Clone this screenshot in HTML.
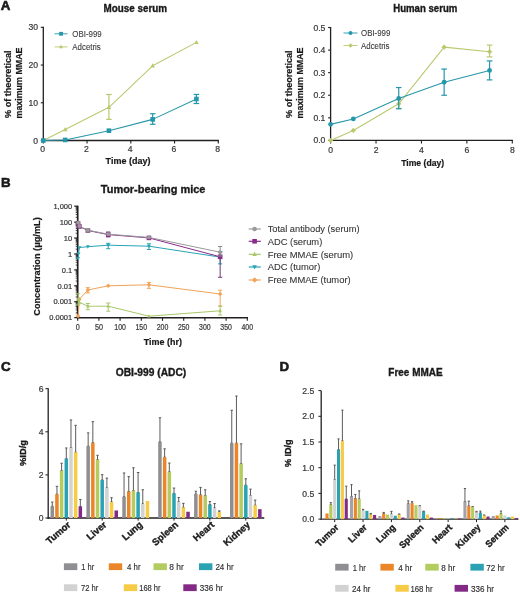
<!DOCTYPE html>
<html><head><meta charset="utf-8"><style>
html,body{margin:0;padding:0;background:#fff;}
svg{display:block;font-family:"Liberation Sans", sans-serif;will-change:transform;}
</style></head><body>
<svg width="520" height="594" viewBox="0 0 520 594">
<rect width="520" height="594" fill="#ffffff"/>
<text x="0.70" y="9.60" font-size="13.3" font-weight="bold" text-anchor="start" fill="#1a1a1a" stroke="#1a1a1a" stroke-width="0.6">A</text>
<text x="0.90" y="187.00" font-size="13.3" font-weight="bold" text-anchor="start" fill="#1a1a1a" stroke="#1a1a1a" stroke-width="0.6">B</text>
<text x="0.90" y="371.00" font-size="13.3" font-weight="bold" text-anchor="start" fill="#1a1a1a" stroke="#1a1a1a" stroke-width="0.6">C</text>
<text x="279.50" y="370.80" font-size="13.3" font-weight="bold" text-anchor="start" fill="#1a1a1a" stroke="#1a1a1a" stroke-width="0.6">D</text>
<text x="103.60" y="12.30" font-size="10" font-weight="bold" text-anchor="start" fill="#1a1a1a" stroke="#1a1a1a" stroke-width="0.35" textLength="63.5" lengthAdjust="spacingAndGlyphs">Mouse serum</text>
<line x1="43.30" y1="26.81" x2="43.30" y2="141.10" stroke="#231f20" stroke-width="1.3"/>
<line x1="42.70" y1="140.50" x2="218.90" y2="140.50" stroke="#231f20" stroke-width="1.3"/>
<line x1="40.80" y1="140.50" x2="43.30" y2="140.50" stroke="#231f20" stroke-width="1.1"/>
<text x="38.10" y="143.50" font-size="8.6" font-weight="normal" text-anchor="end" fill="#3a3a3a" stroke="#3a3a3a" stroke-width="0.22">0</text>
<line x1="40.80" y1="102.77" x2="43.30" y2="102.77" stroke="#231f20" stroke-width="1.1"/>
<text x="38.10" y="105.77" font-size="8.6" font-weight="normal" text-anchor="end" fill="#3a3a3a" stroke="#3a3a3a" stroke-width="0.22">10</text>
<line x1="40.80" y1="65.04" x2="43.30" y2="65.04" stroke="#231f20" stroke-width="1.1"/>
<text x="38.10" y="68.04" font-size="8.6" font-weight="normal" text-anchor="end" fill="#3a3a3a" stroke="#3a3a3a" stroke-width="0.22">20</text>
<line x1="40.80" y1="27.31" x2="43.30" y2="27.31" stroke="#231f20" stroke-width="1.1"/>
<text x="38.10" y="30.31" font-size="8.6" font-weight="normal" text-anchor="end" fill="#3a3a3a" stroke="#3a3a3a" stroke-width="0.22">30</text>
<line x1="43.30" y1="140.50" x2="43.30" y2="143.50" stroke="#231f20" stroke-width="1.1"/>
<text x="42.70" y="152.30" font-size="8.6" font-weight="normal" text-anchor="middle" fill="#3a3a3a" stroke="#3a3a3a" stroke-width="0.22">0</text>
<line x1="87.05" y1="140.50" x2="87.05" y2="143.50" stroke="#231f20" stroke-width="1.1"/>
<text x="86.45" y="152.30" font-size="8.6" font-weight="normal" text-anchor="middle" fill="#3a3a3a" stroke="#3a3a3a" stroke-width="0.22">2</text>
<line x1="130.80" y1="140.50" x2="130.80" y2="143.50" stroke="#231f20" stroke-width="1.1"/>
<text x="130.20" y="152.30" font-size="8.6" font-weight="normal" text-anchor="middle" fill="#3a3a3a" stroke="#3a3a3a" stroke-width="0.22">4</text>
<line x1="174.55" y1="140.50" x2="174.55" y2="143.50" stroke="#231f20" stroke-width="1.1"/>
<text x="173.95" y="152.30" font-size="8.6" font-weight="normal" text-anchor="middle" fill="#3a3a3a" stroke="#3a3a3a" stroke-width="0.22">6</text>
<line x1="218.30" y1="140.50" x2="218.30" y2="143.50" stroke="#231f20" stroke-width="1.1"/>
<text x="217.70" y="152.30" font-size="8.6" font-weight="normal" text-anchor="middle" fill="#3a3a3a" stroke="#3a3a3a" stroke-width="0.22">8</text>
<text x="105.60" y="164.30" font-size="9.5" font-weight="bold" text-anchor="start" fill="#1a1a1a" stroke="#1a1a1a" stroke-width="0.22" textLength="44.8" lengthAdjust="spacingAndGlyphs">Time (day)</text>
<text x="10.90" y="84.20" font-size="9.4" font-weight="bold" text-anchor="middle" fill="#1a1a1a" stroke="#1a1a1a" stroke-width="0.22" textLength="67.5" lengthAdjust="spacingAndGlyphs" transform="rotate(-90 10.90 84.20)">% of theoretical</text>
<text x="22.10" y="83.00" font-size="9.4" font-weight="bold" text-anchor="middle" fill="#1a1a1a" stroke="#1a1a1a" stroke-width="0.22" textLength="71" lengthAdjust="spacingAndGlyphs" transform="rotate(-90 22.10 83.00)">maximum MMAE</text>
<polyline points="43.30,140.50 65.17,129.56 108.92,107.30 152.68,65.79 196.43,42.40" fill="none" stroke="#bac86e" stroke-width="1.05" stroke-linejoin="round"/>
<line x1="108.92" y1="94.47" x2="108.92" y2="119.37" stroke="#bac86e" stroke-width="1.2"/>
<line x1="106.12" y1="94.47" x2="111.72" y2="94.47" stroke="#bac86e" stroke-width="1.2"/>
<line x1="106.12" y1="119.37" x2="111.72" y2="119.37" stroke="#bac86e" stroke-width="1.2"/>
<polygon points="43.30,138.02 45.60,142.16 41.00,142.16" fill="#bac86e"/>
<polygon points="65.17,127.07 67.47,131.21 62.88,131.21" fill="#bac86e"/>
<polygon points="108.92,104.81 111.22,108.95 106.62,108.95" fill="#bac86e"/>
<polygon points="152.68,63.31 154.98,67.45 150.38,67.45" fill="#bac86e"/>
<polygon points="196.43,39.92 198.73,44.06 194.12,44.06" fill="#bac86e"/>
<polyline points="43.30,140.50 65.17,139.93 108.92,130.69 152.68,119.37 196.43,99.00" fill="none" stroke="#2597aa" stroke-width="1.05" stroke-linejoin="round"/>
<line x1="152.68" y1="113.71" x2="152.68" y2="124.28" stroke="#2597aa" stroke-width="1.2"/>
<line x1="149.88" y1="113.71" x2="155.48" y2="113.71" stroke="#2597aa" stroke-width="1.2"/>
<line x1="149.88" y1="124.28" x2="155.48" y2="124.28" stroke="#2597aa" stroke-width="1.2"/>
<line x1="196.43" y1="94.47" x2="196.43" y2="103.52" stroke="#2597aa" stroke-width="1.2"/>
<line x1="193.62" y1="94.47" x2="199.23" y2="94.47" stroke="#2597aa" stroke-width="1.2"/>
<line x1="193.62" y1="103.52" x2="199.23" y2="103.52" stroke="#2597aa" stroke-width="1.2"/>
<rect x="41.00" y="138.20" width="4.60" height="4.60" fill="#2597aa"/>
<rect x="62.88" y="137.63" width="4.60" height="4.60" fill="#2597aa"/>
<rect x="106.62" y="128.39" width="4.60" height="4.60" fill="#2597aa"/>
<rect x="150.38" y="117.07" width="4.60" height="4.60" fill="#2597aa"/>
<rect x="194.12" y="96.70" width="4.60" height="4.60" fill="#2597aa"/>
<line x1="54.60" y1="33.80" x2="67.50" y2="33.80" stroke="#2597aa" stroke-width="0.9"/>
<rect x="59.15" y="31.90" width="3.80" height="3.80" fill="#2597aa"/>
<text x="72.30" y="36.80" font-size="8.5" font-weight="normal" text-anchor="start" fill="#3a3a3a" stroke="#3a3a3a" stroke-width="0.1" textLength="29.4" lengthAdjust="spacingAndGlyphs">OBI-999</text>
<line x1="54.60" y1="46.90" x2="67.50" y2="46.90" stroke="#bac86e" stroke-width="0.9"/>
<polygon points="61.05,44.74 63.05,48.34 59.05,48.34" fill="#bac86e"/>
<text x="72.30" y="49.90" font-size="8.5" font-weight="normal" text-anchor="start" fill="#3a3a3a" stroke="#3a3a3a" stroke-width="0.1" textLength="28.5" lengthAdjust="spacingAndGlyphs">Adcetris</text>
<text x="393.30" y="12.30" font-size="10" font-weight="bold" text-anchor="start" fill="#1a1a1a" stroke="#1a1a1a" stroke-width="0.35" textLength="64.0" lengthAdjust="spacingAndGlyphs">Human serum</text>
<line x1="330.60" y1="27.00" x2="330.60" y2="141.00" stroke="#231f20" stroke-width="1.3"/>
<line x1="330.00" y1="140.40" x2="512.88" y2="140.40" stroke="#231f20" stroke-width="1.3"/>
<line x1="328.10" y1="140.40" x2="330.60" y2="140.40" stroke="#231f20" stroke-width="1.1"/>
<text x="325.40" y="143.40" font-size="8.6" font-weight="normal" text-anchor="end" fill="#3a3a3a" stroke="#3a3a3a" stroke-width="0.22">0.0</text>
<line x1="328.10" y1="117.82" x2="330.60" y2="117.82" stroke="#231f20" stroke-width="1.1"/>
<text x="325.40" y="120.82" font-size="8.6" font-weight="normal" text-anchor="end" fill="#3a3a3a" stroke="#3a3a3a" stroke-width="0.22">0.1</text>
<line x1="328.10" y1="95.24" x2="330.60" y2="95.24" stroke="#231f20" stroke-width="1.1"/>
<text x="325.40" y="98.24" font-size="8.6" font-weight="normal" text-anchor="end" fill="#3a3a3a" stroke="#3a3a3a" stroke-width="0.22">0.2</text>
<line x1="328.10" y1="72.66" x2="330.60" y2="72.66" stroke="#231f20" stroke-width="1.1"/>
<text x="325.40" y="75.66" font-size="8.6" font-weight="normal" text-anchor="end" fill="#3a3a3a" stroke="#3a3a3a" stroke-width="0.22">0.3</text>
<line x1="328.10" y1="50.08" x2="330.60" y2="50.08" stroke="#231f20" stroke-width="1.1"/>
<text x="325.40" y="53.08" font-size="8.6" font-weight="normal" text-anchor="end" fill="#3a3a3a" stroke="#3a3a3a" stroke-width="0.22">0.4</text>
<line x1="328.10" y1="27.50" x2="330.60" y2="27.50" stroke="#231f20" stroke-width="1.1"/>
<text x="325.40" y="30.50" font-size="8.6" font-weight="normal" text-anchor="end" fill="#3a3a3a" stroke="#3a3a3a" stroke-width="0.22">0.5</text>
<line x1="330.60" y1="140.40" x2="330.60" y2="143.40" stroke="#231f20" stroke-width="1.1"/>
<text x="330.60" y="152.50" font-size="8.6" font-weight="normal" text-anchor="middle" fill="#3a3a3a" stroke="#3a3a3a" stroke-width="0.22">0</text>
<line x1="376.02" y1="140.40" x2="376.02" y2="143.40" stroke="#231f20" stroke-width="1.1"/>
<text x="376.02" y="152.50" font-size="8.6" font-weight="normal" text-anchor="middle" fill="#3a3a3a" stroke="#3a3a3a" stroke-width="0.22">2</text>
<line x1="421.44" y1="140.40" x2="421.44" y2="143.40" stroke="#231f20" stroke-width="1.1"/>
<text x="421.44" y="152.50" font-size="8.6" font-weight="normal" text-anchor="middle" fill="#3a3a3a" stroke="#3a3a3a" stroke-width="0.22">4</text>
<line x1="466.86" y1="140.40" x2="466.86" y2="143.40" stroke="#231f20" stroke-width="1.1"/>
<text x="466.86" y="152.50" font-size="8.6" font-weight="normal" text-anchor="middle" fill="#3a3a3a" stroke="#3a3a3a" stroke-width="0.22">6</text>
<line x1="512.28" y1="140.40" x2="512.28" y2="143.40" stroke="#231f20" stroke-width="1.1"/>
<text x="512.28" y="152.50" font-size="8.6" font-weight="normal" text-anchor="middle" fill="#3a3a3a" stroke="#3a3a3a" stroke-width="0.22">8</text>
<text x="401.20" y="166.30" font-size="9.5" font-weight="bold" text-anchor="start" fill="#1a1a1a" stroke="#1a1a1a" stroke-width="0.22" textLength="43.0" lengthAdjust="spacingAndGlyphs">Time (day)</text>
<text x="291.80" y="84.20" font-size="9.4" font-weight="bold" text-anchor="middle" fill="#1a1a1a" stroke="#1a1a1a" stroke-width="0.22" textLength="67.5" lengthAdjust="spacingAndGlyphs" transform="rotate(-90 291.80 84.20)">% of theoretical</text>
<text x="302.60" y="83.00" font-size="9.4" font-weight="bold" text-anchor="middle" fill="#1a1a1a" stroke="#1a1a1a" stroke-width="0.22" textLength="71" lengthAdjust="spacingAndGlyphs" transform="rotate(-90 302.60 83.00)">maximum MMAE</text>
<polyline points="330.60,140.40 353.31,130.46 398.73,103.82 444.15,47.14 489.57,51.66" fill="none" stroke="#bac86e" stroke-width="1.05" stroke-linejoin="round"/>
<line x1="398.73" y1="99.76" x2="398.73" y2="108.34" stroke="#bac86e" stroke-width="1.2"/>
<line x1="395.93" y1="99.76" x2="401.53" y2="99.76" stroke="#bac86e" stroke-width="1.2"/>
<line x1="395.93" y1="108.34" x2="401.53" y2="108.34" stroke="#bac86e" stroke-width="1.2"/>
<line x1="489.57" y1="45.11" x2="489.57" y2="56.85" stroke="#bac86e" stroke-width="1.2"/>
<line x1="486.77" y1="45.11" x2="492.37" y2="45.11" stroke="#bac86e" stroke-width="1.2"/>
<line x1="486.77" y1="56.85" x2="492.37" y2="56.85" stroke="#bac86e" stroke-width="1.2"/>
<polygon points="330.60,137.75 333.25,140.40 330.60,143.05 327.96,140.40" fill="#bac86e"/>
<polygon points="353.31,127.82 355.95,130.46 353.31,133.11 350.67,130.46" fill="#bac86e"/>
<polygon points="398.73,101.18 401.38,103.82 398.73,106.47 396.09,103.82" fill="#bac86e"/>
<polygon points="444.15,44.50 446.80,47.14 444.15,49.79 441.51,47.14" fill="#bac86e"/>
<polygon points="489.57,49.02 492.22,51.66 489.57,54.31 486.93,51.66" fill="#bac86e"/>
<polyline points="330.60,124.37 353.31,118.95 398.73,98.40 444.15,82.14 489.57,70.40" fill="none" stroke="#2597aa" stroke-width="1.05" stroke-linejoin="round"/>
<line x1="398.73" y1="87.56" x2="398.73" y2="108.79" stroke="#2597aa" stroke-width="1.2"/>
<line x1="395.93" y1="87.56" x2="401.53" y2="87.56" stroke="#2597aa" stroke-width="1.2"/>
<line x1="395.93" y1="108.79" x2="401.53" y2="108.79" stroke="#2597aa" stroke-width="1.2"/>
<line x1="444.15" y1="69.05" x2="444.15" y2="95.24" stroke="#2597aa" stroke-width="1.2"/>
<line x1="441.35" y1="69.05" x2="446.95" y2="69.05" stroke="#2597aa" stroke-width="1.2"/>
<line x1="441.35" y1="95.24" x2="446.95" y2="95.24" stroke="#2597aa" stroke-width="1.2"/>
<line x1="489.57" y1="60.92" x2="489.57" y2="79.89" stroke="#2597aa" stroke-width="1.2"/>
<line x1="486.77" y1="60.92" x2="492.37" y2="60.92" stroke="#2597aa" stroke-width="1.2"/>
<line x1="486.77" y1="79.89" x2="492.37" y2="79.89" stroke="#2597aa" stroke-width="1.2"/>
<circle cx="330.60" cy="124.37" r="2.40" fill="#2597aa"/>
<circle cx="353.31" cy="118.95" r="2.40" fill="#2597aa"/>
<circle cx="398.73" cy="98.40" r="2.40" fill="#2597aa"/>
<circle cx="444.15" cy="82.14" r="2.40" fill="#2597aa"/>
<circle cx="489.57" cy="70.40" r="2.40" fill="#2597aa"/>
<line x1="343.50" y1="33.00" x2="357.50" y2="33.00" stroke="#2597aa" stroke-width="0.9"/>
<circle cx="350.50" cy="33.00" r="2.00" fill="#2597aa"/>
<text x="361.00" y="36.00" font-size="8.5" font-weight="normal" text-anchor="start" fill="#3a3a3a" stroke="#3a3a3a" stroke-width="0.1" textLength="29.4" lengthAdjust="spacingAndGlyphs">OBI-999</text>
<line x1="343.50" y1="45.50" x2="357.50" y2="45.50" stroke="#bac86e" stroke-width="0.9"/>
<polygon points="350.50,43.20 352.80,45.50 350.50,47.80 348.20,45.50" fill="#bac86e"/>
<text x="361.00" y="48.50" font-size="8.5" font-weight="normal" text-anchor="start" fill="#3a3a3a" stroke="#3a3a3a" stroke-width="0.1" textLength="28.5" lengthAdjust="spacingAndGlyphs">Adcetris</text>
<text x="100.80" y="192.60" font-size="11" font-weight="bold" text-anchor="start" fill="#1a1a1a" stroke="#1a1a1a" stroke-width="0.35" textLength="104.6" lengthAdjust="spacingAndGlyphs">Tumor-bearing mice</text>
<line x1="77.70" y1="205.70" x2="77.70" y2="318.44" stroke="#231f20" stroke-width="1.7"/>
<line x1="76.90" y1="317.64" x2="248.00" y2="317.64" stroke="#231f20" stroke-width="1.5"/>
<line x1="74.20" y1="206.20" x2="77.70" y2="206.20" stroke="#231f20" stroke-width="1.2"/>
<text x="72.20" y="208.90" font-size="7.5" font-weight="normal" text-anchor="end" fill="#3a3a3a" stroke="#3a3a3a" stroke-width="0.22">1,000</text>
<line x1="75.70" y1="217.33" x2="77.70" y2="217.33" stroke="#231f20" stroke-width="0.8"/>
<line x1="75.70" y1="214.52" x2="77.70" y2="214.52" stroke="#231f20" stroke-width="0.8"/>
<line x1="75.70" y1="212.54" x2="77.70" y2="212.54" stroke="#231f20" stroke-width="0.8"/>
<line x1="75.70" y1="210.99" x2="77.70" y2="210.99" stroke="#231f20" stroke-width="0.8"/>
<line x1="75.70" y1="209.73" x2="77.70" y2="209.73" stroke="#231f20" stroke-width="0.8"/>
<line x1="75.70" y1="208.67" x2="77.70" y2="208.67" stroke="#231f20" stroke-width="0.8"/>
<line x1="75.70" y1="207.74" x2="77.70" y2="207.74" stroke="#231f20" stroke-width="0.8"/>
<line x1="75.70" y1="206.93" x2="77.70" y2="206.93" stroke="#231f20" stroke-width="0.8"/>
<line x1="74.20" y1="222.12" x2="77.70" y2="222.12" stroke="#231f20" stroke-width="1.2"/>
<text x="72.20" y="224.82" font-size="7.5" font-weight="normal" text-anchor="end" fill="#3a3a3a" stroke="#3a3a3a" stroke-width="0.22">100</text>
<line x1="75.70" y1="233.25" x2="77.70" y2="233.25" stroke="#231f20" stroke-width="0.8"/>
<line x1="75.70" y1="230.44" x2="77.70" y2="230.44" stroke="#231f20" stroke-width="0.8"/>
<line x1="75.70" y1="228.46" x2="77.70" y2="228.46" stroke="#231f20" stroke-width="0.8"/>
<line x1="75.70" y1="226.91" x2="77.70" y2="226.91" stroke="#231f20" stroke-width="0.8"/>
<line x1="75.70" y1="225.65" x2="77.70" y2="225.65" stroke="#231f20" stroke-width="0.8"/>
<line x1="75.70" y1="224.59" x2="77.70" y2="224.59" stroke="#231f20" stroke-width="0.8"/>
<line x1="75.70" y1="223.66" x2="77.70" y2="223.66" stroke="#231f20" stroke-width="0.8"/>
<line x1="75.70" y1="222.85" x2="77.70" y2="222.85" stroke="#231f20" stroke-width="0.8"/>
<line x1="74.20" y1="238.04" x2="77.70" y2="238.04" stroke="#231f20" stroke-width="1.2"/>
<text x="72.20" y="240.74" font-size="7.5" font-weight="normal" text-anchor="end" fill="#3a3a3a" stroke="#3a3a3a" stroke-width="0.22">10</text>
<line x1="75.70" y1="249.17" x2="77.70" y2="249.17" stroke="#231f20" stroke-width="0.8"/>
<line x1="75.70" y1="246.36" x2="77.70" y2="246.36" stroke="#231f20" stroke-width="0.8"/>
<line x1="75.70" y1="244.38" x2="77.70" y2="244.38" stroke="#231f20" stroke-width="0.8"/>
<line x1="75.70" y1="242.83" x2="77.70" y2="242.83" stroke="#231f20" stroke-width="0.8"/>
<line x1="75.70" y1="241.57" x2="77.70" y2="241.57" stroke="#231f20" stroke-width="0.8"/>
<line x1="75.70" y1="240.51" x2="77.70" y2="240.51" stroke="#231f20" stroke-width="0.8"/>
<line x1="75.70" y1="239.58" x2="77.70" y2="239.58" stroke="#231f20" stroke-width="0.8"/>
<line x1="75.70" y1="238.77" x2="77.70" y2="238.77" stroke="#231f20" stroke-width="0.8"/>
<line x1="74.20" y1="253.96" x2="77.70" y2="253.96" stroke="#231f20" stroke-width="1.2"/>
<text x="72.20" y="256.66" font-size="7.5" font-weight="normal" text-anchor="end" fill="#3a3a3a" stroke="#3a3a3a" stroke-width="0.22">1</text>
<line x1="75.70" y1="265.09" x2="77.70" y2="265.09" stroke="#231f20" stroke-width="0.8"/>
<line x1="75.70" y1="262.28" x2="77.70" y2="262.28" stroke="#231f20" stroke-width="0.8"/>
<line x1="75.70" y1="260.30" x2="77.70" y2="260.30" stroke="#231f20" stroke-width="0.8"/>
<line x1="75.70" y1="258.75" x2="77.70" y2="258.75" stroke="#231f20" stroke-width="0.8"/>
<line x1="75.70" y1="257.49" x2="77.70" y2="257.49" stroke="#231f20" stroke-width="0.8"/>
<line x1="75.70" y1="256.43" x2="77.70" y2="256.43" stroke="#231f20" stroke-width="0.8"/>
<line x1="75.70" y1="255.50" x2="77.70" y2="255.50" stroke="#231f20" stroke-width="0.8"/>
<line x1="75.70" y1="254.69" x2="77.70" y2="254.69" stroke="#231f20" stroke-width="0.8"/>
<line x1="74.20" y1="269.88" x2="77.70" y2="269.88" stroke="#231f20" stroke-width="1.2"/>
<text x="72.20" y="272.58" font-size="7.5" font-weight="normal" text-anchor="end" fill="#3a3a3a" stroke="#3a3a3a" stroke-width="0.22">0.1</text>
<line x1="75.70" y1="281.01" x2="77.70" y2="281.01" stroke="#231f20" stroke-width="0.8"/>
<line x1="75.70" y1="278.20" x2="77.70" y2="278.20" stroke="#231f20" stroke-width="0.8"/>
<line x1="75.70" y1="276.22" x2="77.70" y2="276.22" stroke="#231f20" stroke-width="0.8"/>
<line x1="75.70" y1="274.67" x2="77.70" y2="274.67" stroke="#231f20" stroke-width="0.8"/>
<line x1="75.70" y1="273.41" x2="77.70" y2="273.41" stroke="#231f20" stroke-width="0.8"/>
<line x1="75.70" y1="272.35" x2="77.70" y2="272.35" stroke="#231f20" stroke-width="0.8"/>
<line x1="75.70" y1="271.42" x2="77.70" y2="271.42" stroke="#231f20" stroke-width="0.8"/>
<line x1="75.70" y1="270.61" x2="77.70" y2="270.61" stroke="#231f20" stroke-width="0.8"/>
<line x1="74.20" y1="285.80" x2="77.70" y2="285.80" stroke="#231f20" stroke-width="1.2"/>
<text x="72.20" y="288.50" font-size="7.5" font-weight="normal" text-anchor="end" fill="#3a3a3a" stroke="#3a3a3a" stroke-width="0.22">0.01</text>
<line x1="75.70" y1="296.93" x2="77.70" y2="296.93" stroke="#231f20" stroke-width="0.8"/>
<line x1="75.70" y1="294.12" x2="77.70" y2="294.12" stroke="#231f20" stroke-width="0.8"/>
<line x1="75.70" y1="292.14" x2="77.70" y2="292.14" stroke="#231f20" stroke-width="0.8"/>
<line x1="75.70" y1="290.59" x2="77.70" y2="290.59" stroke="#231f20" stroke-width="0.8"/>
<line x1="75.70" y1="289.33" x2="77.70" y2="289.33" stroke="#231f20" stroke-width="0.8"/>
<line x1="75.70" y1="288.27" x2="77.70" y2="288.27" stroke="#231f20" stroke-width="0.8"/>
<line x1="75.70" y1="287.34" x2="77.70" y2="287.34" stroke="#231f20" stroke-width="0.8"/>
<line x1="75.70" y1="286.53" x2="77.70" y2="286.53" stroke="#231f20" stroke-width="0.8"/>
<line x1="74.20" y1="301.72" x2="77.70" y2="301.72" stroke="#231f20" stroke-width="1.2"/>
<text x="72.20" y="304.42" font-size="7.5" font-weight="normal" text-anchor="end" fill="#3a3a3a" stroke="#3a3a3a" stroke-width="0.22">0.001</text>
<line x1="75.70" y1="312.85" x2="77.70" y2="312.85" stroke="#231f20" stroke-width="0.8"/>
<line x1="75.70" y1="310.04" x2="77.70" y2="310.04" stroke="#231f20" stroke-width="0.8"/>
<line x1="75.70" y1="308.06" x2="77.70" y2="308.06" stroke="#231f20" stroke-width="0.8"/>
<line x1="75.70" y1="306.51" x2="77.70" y2="306.51" stroke="#231f20" stroke-width="0.8"/>
<line x1="75.70" y1="305.25" x2="77.70" y2="305.25" stroke="#231f20" stroke-width="0.8"/>
<line x1="75.70" y1="304.19" x2="77.70" y2="304.19" stroke="#231f20" stroke-width="0.8"/>
<line x1="75.70" y1="303.26" x2="77.70" y2="303.26" stroke="#231f20" stroke-width="0.8"/>
<line x1="75.70" y1="302.45" x2="77.70" y2="302.45" stroke="#231f20" stroke-width="0.8"/>
<line x1="74.20" y1="317.64" x2="77.70" y2="317.64" stroke="#231f20" stroke-width="1.2"/>
<text x="72.20" y="320.34" font-size="7.5" font-weight="normal" text-anchor="end" fill="#3a3a3a" stroke="#3a3a3a" stroke-width="0.22">0.0001</text>
<line x1="77.70" y1="317.64" x2="77.70" y2="320.84" stroke="#231f20" stroke-width="1.1"/>
<text x="77.70" y="330.30" font-size="8.2" font-weight="normal" text-anchor="middle" fill="#3a3a3a" stroke="#3a3a3a" stroke-width="0.22" textLength="4.0" lengthAdjust="spacingAndGlyphs">0</text>
<line x1="98.90" y1="317.64" x2="98.90" y2="320.84" stroke="#231f20" stroke-width="1.1"/>
<text x="98.90" y="330.30" font-size="8.2" font-weight="normal" text-anchor="middle" fill="#3a3a3a" stroke="#3a3a3a" stroke-width="0.22" textLength="8.0" lengthAdjust="spacingAndGlyphs">50</text>
<line x1="120.10" y1="317.64" x2="120.10" y2="320.84" stroke="#231f20" stroke-width="1.1"/>
<text x="120.10" y="330.30" font-size="8.2" font-weight="normal" text-anchor="middle" fill="#3a3a3a" stroke="#3a3a3a" stroke-width="0.22" textLength="11.6" lengthAdjust="spacingAndGlyphs">100</text>
<line x1="141.30" y1="317.64" x2="141.30" y2="320.84" stroke="#231f20" stroke-width="1.1"/>
<text x="141.30" y="330.30" font-size="8.2" font-weight="normal" text-anchor="middle" fill="#3a3a3a" stroke="#3a3a3a" stroke-width="0.22" textLength="11.6" lengthAdjust="spacingAndGlyphs">150</text>
<line x1="162.50" y1="317.64" x2="162.50" y2="320.84" stroke="#231f20" stroke-width="1.1"/>
<text x="162.50" y="330.30" font-size="8.2" font-weight="normal" text-anchor="middle" fill="#3a3a3a" stroke="#3a3a3a" stroke-width="0.22" textLength="11.6" lengthAdjust="spacingAndGlyphs">200</text>
<line x1="183.70" y1="317.64" x2="183.70" y2="320.84" stroke="#231f20" stroke-width="1.1"/>
<text x="183.70" y="330.30" font-size="8.2" font-weight="normal" text-anchor="middle" fill="#3a3a3a" stroke="#3a3a3a" stroke-width="0.22" textLength="11.6" lengthAdjust="spacingAndGlyphs">250</text>
<line x1="204.90" y1="317.64" x2="204.90" y2="320.84" stroke="#231f20" stroke-width="1.1"/>
<text x="204.90" y="330.30" font-size="8.2" font-weight="normal" text-anchor="middle" fill="#3a3a3a" stroke="#3a3a3a" stroke-width="0.22" textLength="11.6" lengthAdjust="spacingAndGlyphs">300</text>
<line x1="226.10" y1="317.64" x2="226.10" y2="320.84" stroke="#231f20" stroke-width="1.1"/>
<text x="226.10" y="330.30" font-size="8.2" font-weight="normal" text-anchor="middle" fill="#3a3a3a" stroke="#3a3a3a" stroke-width="0.22" textLength="11.6" lengthAdjust="spacingAndGlyphs">350</text>
<line x1="247.30" y1="317.64" x2="247.30" y2="320.84" stroke="#231f20" stroke-width="1.1"/>
<text x="247.30" y="330.30" font-size="8.2" font-weight="normal" text-anchor="middle" fill="#3a3a3a" stroke="#3a3a3a" stroke-width="0.22" textLength="11.6" lengthAdjust="spacingAndGlyphs">400</text>
<text x="143.80" y="345.40" font-size="9.5" font-weight="bold" text-anchor="start" fill="#1a1a1a" stroke="#1a1a1a" stroke-width="0.22" textLength="38.1" lengthAdjust="spacingAndGlyphs">Time (hr)</text>
<text x="40.30" y="266.50" font-size="9.5" font-weight="bold" text-anchor="middle" fill="#1a1a1a" stroke="#1a1a1a" stroke-width="0.22" textLength="98.5" lengthAdjust="spacingAndGlyphs" transform="rotate(-90 40.30 266.50)">Concentration (μg/mL)</text>
<polyline points="78.12,316.00 79.40,299.20 87.88,290.00 108.23,285.80 148.93,284.80 220.16,294.00" fill="none" stroke="#f0a35a" stroke-width="1.0" stroke-linejoin="round"/>
<line x1="87.88" y1="287.70" x2="87.88" y2="293.00" stroke="#f0a35a" stroke-width="1.0"/>
<line x1="85.78" y1="287.70" x2="89.98" y2="287.70" stroke="#f0a35a" stroke-width="1.0"/>
<line x1="85.78" y1="293.00" x2="89.98" y2="293.00" stroke="#f0a35a" stroke-width="1.0"/>
<line x1="148.93" y1="282.40" x2="148.93" y2="288.30" stroke="#f0a35a" stroke-width="1.0"/>
<line x1="146.83" y1="282.40" x2="151.03" y2="282.40" stroke="#f0a35a" stroke-width="1.0"/>
<line x1="146.83" y1="288.30" x2="151.03" y2="288.30" stroke="#f0a35a" stroke-width="1.0"/>
<line x1="220.16" y1="290.20" x2="220.16" y2="306.00" stroke="#f0a35a" stroke-width="1.0"/>
<line x1="218.06" y1="290.20" x2="222.26" y2="290.20" stroke="#f0a35a" stroke-width="1.0"/>
<line x1="218.06" y1="306.00" x2="222.26" y2="306.00" stroke="#f0a35a" stroke-width="1.0"/>
<polygon points="78.12,313.81 80.31,316.00 78.12,318.19 75.94,316.00" fill="#f0a35a"/>
<polygon points="79.40,297.01 81.58,299.20 79.40,301.38 77.21,299.20" fill="#f0a35a"/>
<polygon points="87.88,287.81 90.06,290.00 87.88,292.19 85.69,290.00" fill="#f0a35a"/>
<polygon points="108.23,283.62 110.41,285.80 108.23,287.99 106.04,285.80" fill="#f0a35a"/>
<polygon points="148.93,282.62 151.12,284.80 148.93,286.99 146.75,284.80" fill="#f0a35a"/>
<polygon points="220.16,291.81 222.35,294.00 220.16,296.19 217.98,294.00" fill="#f0a35a"/>
<polyline points="78.12,299.20 79.40,302.30 87.88,306.20 108.23,306.20 148.93,316.20 220.16,310.80" fill="none" stroke="#a9c86b" stroke-width="1.0" stroke-linejoin="round"/>
<line x1="78.12" y1="293.80" x2="78.12" y2="305.00" stroke="#a9c86b" stroke-width="1.0"/>
<line x1="76.02" y1="293.80" x2="80.22" y2="293.80" stroke="#a9c86b" stroke-width="1.0"/>
<line x1="76.02" y1="305.00" x2="80.22" y2="305.00" stroke="#a9c86b" stroke-width="1.0"/>
<line x1="87.88" y1="303.50" x2="87.88" y2="309.70" stroke="#a9c86b" stroke-width="1.0"/>
<line x1="85.78" y1="303.50" x2="89.98" y2="303.50" stroke="#a9c86b" stroke-width="1.0"/>
<line x1="85.78" y1="309.70" x2="89.98" y2="309.70" stroke="#a9c86b" stroke-width="1.0"/>
<line x1="108.23" y1="303.00" x2="108.23" y2="311.20" stroke="#a9c86b" stroke-width="1.0"/>
<line x1="106.13" y1="303.00" x2="110.33" y2="303.00" stroke="#a9c86b" stroke-width="1.0"/>
<line x1="106.13" y1="311.20" x2="110.33" y2="311.20" stroke="#a9c86b" stroke-width="1.0"/>
<line x1="220.16" y1="306.20" x2="220.16" y2="315.00" stroke="#a9c86b" stroke-width="1.0"/>
<line x1="218.06" y1="306.20" x2="222.26" y2="306.20" stroke="#a9c86b" stroke-width="1.0"/>
<line x1="218.06" y1="315.00" x2="222.26" y2="315.00" stroke="#a9c86b" stroke-width="1.0"/>
<polygon points="78.12,297.15 80.02,300.57 76.22,300.57" fill="#a9c86b"/>
<polygon points="79.40,300.25 81.30,303.67 77.50,303.67" fill="#a9c86b"/>
<polygon points="87.88,304.15 89.78,307.57 85.98,307.57" fill="#a9c86b"/>
<polygon points="108.23,304.15 110.13,307.57 106.33,307.57" fill="#a9c86b"/>
<polygon points="148.93,314.15 150.83,317.57 147.03,317.57" fill="#a9c86b"/>
<polygon points="220.16,308.75 222.06,312.17 218.26,312.17" fill="#a9c86b"/>
<polyline points="78.12,258.40 78.55,253.80 79.40,247.50 87.88,246.70 108.23,245.20 148.93,246.20 220.16,257.10" fill="none" stroke="#2aa3b5" stroke-width="1.0" stroke-linejoin="round"/>
<line x1="108.23" y1="243.30" x2="108.23" y2="248.70" stroke="#2aa3b5" stroke-width="1.0"/>
<line x1="106.13" y1="243.30" x2="110.33" y2="243.30" stroke="#2aa3b5" stroke-width="1.0"/>
<line x1="106.13" y1="248.70" x2="110.33" y2="248.70" stroke="#2aa3b5" stroke-width="1.0"/>
<line x1="148.93" y1="243.80" x2="148.93" y2="249.50" stroke="#2aa3b5" stroke-width="1.0"/>
<line x1="146.83" y1="243.80" x2="151.03" y2="243.80" stroke="#2aa3b5" stroke-width="1.0"/>
<line x1="146.83" y1="249.50" x2="151.03" y2="249.50" stroke="#2aa3b5" stroke-width="1.0"/>
<line x1="220.16" y1="251.50" x2="220.16" y2="263.90" stroke="#2aa3b5" stroke-width="1.0"/>
<line x1="218.06" y1="251.50" x2="222.26" y2="251.50" stroke="#2aa3b5" stroke-width="1.0"/>
<line x1="218.06" y1="263.90" x2="222.26" y2="263.90" stroke="#2aa3b5" stroke-width="1.0"/>
<polygon points="78.12,260.45 80.02,257.03 76.22,257.03" fill="#2aa3b5"/>
<polygon points="78.55,255.85 80.45,252.43 76.65,252.43" fill="#2aa3b5"/>
<polygon points="79.40,249.55 81.30,246.13 77.50,246.13" fill="#2aa3b5"/>
<polygon points="87.88,248.75 89.78,245.33 85.98,245.33" fill="#2aa3b5"/>
<polygon points="108.23,247.25 110.13,243.83 106.33,243.83" fill="#2aa3b5"/>
<polygon points="148.93,248.25 150.83,244.83 147.03,244.83" fill="#2aa3b5"/>
<polygon points="220.16,259.15 222.06,255.73 218.26,255.73" fill="#2aa3b5"/>
<polyline points="78.12,223.50 79.40,226.50 87.88,230.50 108.23,234.60 148.93,237.90 220.16,256.80" fill="none" stroke="#8a2a8a" stroke-width="1.0" stroke-linejoin="round"/>
<line x1="108.23" y1="232.00" x2="108.23" y2="236.90" stroke="#6e3a74" stroke-width="1.0"/>
<line x1="106.13" y1="232.00" x2="110.33" y2="232.00" stroke="#6e3a74" stroke-width="1.0"/>
<line x1="106.13" y1="236.90" x2="110.33" y2="236.90" stroke="#6e3a74" stroke-width="1.0"/>
<line x1="220.16" y1="252.00" x2="220.16" y2="277.30" stroke="#6e3a74" stroke-width="1.0"/>
<line x1="218.06" y1="252.00" x2="222.26" y2="252.00" stroke="#6e3a74" stroke-width="1.0"/>
<line x1="218.06" y1="277.30" x2="222.26" y2="277.30" stroke="#6e3a74" stroke-width="1.0"/>
<rect x="75.82" y="221.20" width="4.60" height="4.60" fill="#8a2a8a"/>
<rect x="77.10" y="224.20" width="4.60" height="4.60" fill="#8a2a8a"/>
<rect x="85.58" y="228.20" width="4.60" height="4.60" fill="#8a2a8a"/>
<rect x="105.93" y="232.30" width="4.60" height="4.60" fill="#8a2a8a"/>
<rect x="146.63" y="235.60" width="4.60" height="4.60" fill="#8a2a8a"/>
<rect x="217.86" y="254.50" width="4.60" height="4.60" fill="#8a2a8a"/>
<polyline points="78.12,222.70 79.40,226.10 87.88,230.20 108.23,234.20 148.93,237.40 220.16,252.20" fill="none" stroke="#9a9a9c" stroke-width="1.0" stroke-linejoin="round"/>
<line x1="87.88" y1="228.50" x2="87.88" y2="232.00" stroke="#8a8a8a" stroke-width="1.0"/>
<line x1="85.78" y1="228.50" x2="89.98" y2="228.50" stroke="#8a8a8a" stroke-width="1.0"/>
<line x1="85.78" y1="232.00" x2="89.98" y2="232.00" stroke="#8a8a8a" stroke-width="1.0"/>
<line x1="220.16" y1="246.50" x2="220.16" y2="256.00" stroke="#8a8a8a" stroke-width="1.0"/>
<line x1="218.06" y1="246.50" x2="222.26" y2="246.50" stroke="#8a8a8a" stroke-width="1.0"/>
<line x1="218.06" y1="256.00" x2="222.26" y2="256.00" stroke="#8a8a8a" stroke-width="1.0"/>
<circle cx="78.12" cy="222.70" r="1.90" fill="#9a9a9c"/>
<circle cx="79.40" cy="226.10" r="1.90" fill="#9a9a9c"/>
<circle cx="87.88" cy="230.20" r="1.90" fill="#9a9a9c"/>
<circle cx="108.23" cy="234.20" r="1.90" fill="#9a9a9c"/>
<circle cx="148.93" cy="237.40" r="1.90" fill="#9a9a9c"/>
<circle cx="220.16" cy="252.20" r="1.90" fill="#9a9a9c"/>
<line x1="248.70" y1="229.00" x2="260.80" y2="229.00" stroke="#9a9a9c" stroke-width="1.2"/>
<circle cx="254.60" cy="229.00" r="2.30" fill="#9a9a9c"/>
<text x="267.70" y="232.40" font-size="9.3" font-weight="normal" text-anchor="start" fill="#333333" stroke="#333333" stroke-width="0.08" textLength="91.8" lengthAdjust="spacingAndGlyphs">Total antibody (serum)</text>
<line x1="248.70" y1="241.30" x2="260.80" y2="241.30" stroke="#8a2a8a" stroke-width="1.2"/>
<rect x="252.30" y="239.00" width="4.60" height="4.60" fill="#8a2a8a"/>
<text x="267.70" y="244.70" font-size="9.3" font-weight="normal" text-anchor="start" fill="#333333" stroke="#333333" stroke-width="0.08" textLength="54.6" lengthAdjust="spacingAndGlyphs">ADC (serum)</text>
<line x1="248.70" y1="254.30" x2="260.80" y2="254.30" stroke="#a9c86b" stroke-width="1.2"/>
<polygon points="254.60,251.82 256.90,255.96 252.30,255.96" fill="#a9c86b"/>
<text x="267.70" y="257.70" font-size="9.3" font-weight="normal" text-anchor="start" fill="#333333" stroke="#333333" stroke-width="0.08" textLength="85.5" lengthAdjust="spacingAndGlyphs">Free MMAE (serum)</text>
<line x1="248.70" y1="267.00" x2="260.80" y2="267.00" stroke="#2aa3b5" stroke-width="1.2"/>
<polygon points="254.60,269.48 256.90,265.34 252.30,265.34" fill="#2aa3b5"/>
<text x="267.70" y="270.40" font-size="9.3" font-weight="normal" text-anchor="start" fill="#333333" stroke="#333333" stroke-width="0.08" textLength="52.6" lengthAdjust="spacingAndGlyphs">ADC (tumor)</text>
<line x1="248.70" y1="280.00" x2="260.80" y2="280.00" stroke="#f0a35a" stroke-width="1.2"/>
<polygon points="254.60,277.36 257.25,280.00 254.60,282.64 251.95,280.00" fill="#f0a35a"/>
<text x="267.70" y="283.40" font-size="9.3" font-weight="normal" text-anchor="start" fill="#333333" stroke="#333333" stroke-width="0.08" textLength="83.0" lengthAdjust="spacingAndGlyphs">Free MMAE (tumor)</text>
<text x="115.80" y="376.00" font-size="10.2" font-weight="bold" text-anchor="start" fill="#1a1a1a" stroke="#1a1a1a" stroke-width="0.35" textLength="70.4" lengthAdjust="spacingAndGlyphs">OBI-999 (ADC)</text>
<line x1="48.20" y1="388.30" x2="48.20" y2="518.70" stroke="#231f20" stroke-width="1.3"/>
<line x1="47.60" y1="518.00" x2="264.30" y2="518.00" stroke="#231f20" stroke-width="1.3"/>
<line x1="45.40" y1="518.00" x2="48.20" y2="518.00" stroke="#231f20" stroke-width="1.0"/>
<text x="43.60" y="521.10" font-size="8.6" font-weight="normal" text-anchor="end" fill="#3a3a3a" stroke="#3a3a3a" stroke-width="0.22">0</text>
<line x1="45.40" y1="474.90" x2="48.20" y2="474.90" stroke="#231f20" stroke-width="1.0"/>
<text x="43.60" y="478.00" font-size="8.6" font-weight="normal" text-anchor="end" fill="#3a3a3a" stroke="#3a3a3a" stroke-width="0.22">2</text>
<line x1="45.40" y1="431.80" x2="48.20" y2="431.80" stroke="#231f20" stroke-width="1.0"/>
<text x="43.60" y="434.90" font-size="8.6" font-weight="normal" text-anchor="end" fill="#3a3a3a" stroke="#3a3a3a" stroke-width="0.22">4</text>
<line x1="45.40" y1="388.70" x2="48.20" y2="388.70" stroke="#231f20" stroke-width="1.0"/>
<text x="43.60" y="391.80" font-size="8.6" font-weight="normal" text-anchor="end" fill="#3a3a3a" stroke="#3a3a3a" stroke-width="0.22">6</text>
<text x="26.30" y="453.00" font-size="9.8" font-weight="bold" text-anchor="middle" fill="#1a1a1a" stroke="#1a1a1a" stroke-width="0.35" textLength="26" lengthAdjust="spacingAndGlyphs" transform="rotate(-90 26.30 453.00)">%ID/g</text>
<line x1="66.30" y1="518.00" x2="66.30" y2="520.60" stroke="#231f20" stroke-width="1.0"/>
<line x1="102.20" y1="518.00" x2="102.20" y2="520.60" stroke="#231f20" stroke-width="1.0"/>
<line x1="138.10" y1="518.00" x2="138.10" y2="520.60" stroke="#231f20" stroke-width="1.0"/>
<line x1="174.00" y1="518.00" x2="174.00" y2="520.60" stroke="#231f20" stroke-width="1.0"/>
<line x1="209.90" y1="518.00" x2="209.90" y2="520.60" stroke="#231f20" stroke-width="1.0"/>
<line x1="245.80" y1="518.00" x2="245.80" y2="520.60" stroke="#231f20" stroke-width="1.0"/>
<line x1="52.26" y1="502.05" x2="52.26" y2="506.36" stroke="#4a4a4a" stroke-width="0.9"/>
<line x1="51.06" y1="502.05" x2="53.46" y2="502.05" stroke="#4a4a4a" stroke-width="0.9"/>
<line x1="51.06" y1="506.36" x2="53.46" y2="506.36" stroke="#4a4a4a" stroke-width="0.9"/>
<rect x="50.51" y="506.36" width="3.50" height="11.64" fill="#8f8f93"/>
<line x1="56.94" y1="486.32" x2="56.94" y2="494.30" stroke="#4a4a4a" stroke-width="0.9"/>
<line x1="55.74" y1="486.32" x2="58.14" y2="486.32" stroke="#4a4a4a" stroke-width="0.9"/>
<line x1="55.74" y1="494.30" x2="58.14" y2="494.30" stroke="#4a4a4a" stroke-width="0.9"/>
<rect x="55.19" y="494.30" width="3.50" height="23.70" fill="#eb8628"/>
<line x1="61.62" y1="463.26" x2="61.62" y2="470.59" stroke="#4a4a4a" stroke-width="0.9"/>
<line x1="60.42" y1="463.26" x2="62.82" y2="463.26" stroke="#4a4a4a" stroke-width="0.9"/>
<line x1="60.42" y1="470.59" x2="62.82" y2="470.59" stroke="#4a4a4a" stroke-width="0.9"/>
<rect x="59.87" y="470.59" width="3.50" height="47.41" fill="#b3cb5f"/>
<line x1="66.30" y1="447.96" x2="66.30" y2="458.74" stroke="#4a4a4a" stroke-width="0.9"/>
<line x1="65.10" y1="447.96" x2="67.50" y2="447.96" stroke="#4a4a4a" stroke-width="0.9"/>
<line x1="65.10" y1="458.74" x2="67.50" y2="458.74" stroke="#4a4a4a" stroke-width="0.9"/>
<rect x="64.55" y="458.74" width="3.50" height="59.26" fill="#2aa2b4"/>
<line x1="70.98" y1="419.95" x2="70.98" y2="447.75" stroke="#4a4a4a" stroke-width="0.9"/>
<line x1="69.78" y1="419.95" x2="72.18" y2="419.95" stroke="#4a4a4a" stroke-width="0.9"/>
<line x1="69.78" y1="447.75" x2="72.18" y2="447.75" stroke="#4a4a4a" stroke-width="0.9"/>
<rect x="69.23" y="447.75" width="3.50" height="70.25" fill="#d2d2d2"/>
<line x1="75.66" y1="425.33" x2="75.66" y2="452.27" stroke="#4a4a4a" stroke-width="0.9"/>
<line x1="74.46" y1="425.33" x2="76.86" y2="425.33" stroke="#4a4a4a" stroke-width="0.9"/>
<line x1="74.46" y1="452.27" x2="76.86" y2="452.27" stroke="#4a4a4a" stroke-width="0.9"/>
<rect x="73.91" y="452.27" width="3.50" height="65.73" fill="#f6cb45"/>
<line x1="80.34" y1="499.47" x2="80.34" y2="506.58" stroke="#4a4a4a" stroke-width="0.9"/>
<line x1="79.14" y1="499.47" x2="81.54" y2="499.47" stroke="#4a4a4a" stroke-width="0.9"/>
<line x1="79.14" y1="506.58" x2="81.54" y2="506.58" stroke="#4a4a4a" stroke-width="0.9"/>
<rect x="78.59" y="506.58" width="3.50" height="11.42" fill="#832a87"/>
<line x1="88.16" y1="432.88" x2="88.16" y2="446.24" stroke="#4a4a4a" stroke-width="0.9"/>
<line x1="86.96" y1="432.88" x2="89.36" y2="432.88" stroke="#4a4a4a" stroke-width="0.9"/>
<line x1="86.96" y1="446.24" x2="89.36" y2="446.24" stroke="#4a4a4a" stroke-width="0.9"/>
<rect x="86.41" y="446.24" width="3.50" height="71.76" fill="#8f8f93"/>
<line x1="92.84" y1="421.67" x2="92.84" y2="442.79" stroke="#4a4a4a" stroke-width="0.9"/>
<line x1="91.64" y1="421.67" x2="94.04" y2="421.67" stroke="#4a4a4a" stroke-width="0.9"/>
<line x1="91.64" y1="442.79" x2="94.04" y2="442.79" stroke="#4a4a4a" stroke-width="0.9"/>
<rect x="91.09" y="442.79" width="3.50" height="75.21" fill="#eb8628"/>
<line x1="97.52" y1="455.29" x2="97.52" y2="459.60" stroke="#4a4a4a" stroke-width="0.9"/>
<line x1="96.32" y1="455.29" x2="98.72" y2="455.29" stroke="#4a4a4a" stroke-width="0.9"/>
<line x1="96.32" y1="459.60" x2="98.72" y2="459.60" stroke="#4a4a4a" stroke-width="0.9"/>
<rect x="95.77" y="459.60" width="3.50" height="58.40" fill="#b3cb5f"/>
<line x1="102.20" y1="474.68" x2="102.20" y2="480.07" stroke="#4a4a4a" stroke-width="0.9"/>
<line x1="101.00" y1="474.68" x2="103.40" y2="474.68" stroke="#4a4a4a" stroke-width="0.9"/>
<line x1="101.00" y1="480.07" x2="103.40" y2="480.07" stroke="#4a4a4a" stroke-width="0.9"/>
<rect x="100.45" y="480.07" width="3.50" height="37.93" fill="#2aa2b4"/>
<line x1="106.88" y1="478.13" x2="106.88" y2="487.83" stroke="#4a4a4a" stroke-width="0.9"/>
<line x1="105.68" y1="478.13" x2="108.08" y2="478.13" stroke="#4a4a4a" stroke-width="0.9"/>
<line x1="105.68" y1="487.83" x2="108.08" y2="487.83" stroke="#4a4a4a" stroke-width="0.9"/>
<rect x="105.13" y="487.83" width="3.50" height="30.17" fill="#d2d2d2"/>
<line x1="111.56" y1="497.74" x2="111.56" y2="502.05" stroke="#4a4a4a" stroke-width="0.9"/>
<line x1="110.36" y1="497.74" x2="112.76" y2="497.74" stroke="#4a4a4a" stroke-width="0.9"/>
<line x1="110.36" y1="502.05" x2="112.76" y2="502.05" stroke="#4a4a4a" stroke-width="0.9"/>
<rect x="109.81" y="502.05" width="3.50" height="15.95" fill="#f6cb45"/>
<rect x="114.49" y="510.46" width="3.50" height="7.54" fill="#832a87"/>
<line x1="124.06" y1="472.96" x2="124.06" y2="496.88" stroke="#4a4a4a" stroke-width="0.9"/>
<line x1="122.86" y1="472.96" x2="125.26" y2="472.96" stroke="#4a4a4a" stroke-width="0.9"/>
<line x1="122.86" y1="496.88" x2="125.26" y2="496.88" stroke="#4a4a4a" stroke-width="0.9"/>
<rect x="122.31" y="496.88" width="3.50" height="21.12" fill="#8f8f93"/>
<line x1="128.74" y1="476.62" x2="128.74" y2="491.49" stroke="#4a4a4a" stroke-width="0.9"/>
<line x1="127.54" y1="476.62" x2="129.94" y2="476.62" stroke="#4a4a4a" stroke-width="0.9"/>
<line x1="127.54" y1="491.49" x2="129.94" y2="491.49" stroke="#4a4a4a" stroke-width="0.9"/>
<rect x="126.99" y="491.49" width="3.50" height="26.51" fill="#eb8628"/>
<line x1="133.42" y1="467.79" x2="133.42" y2="490.63" stroke="#4a4a4a" stroke-width="0.9"/>
<line x1="132.22" y1="467.79" x2="134.62" y2="467.79" stroke="#4a4a4a" stroke-width="0.9"/>
<line x1="132.22" y1="490.63" x2="134.62" y2="490.63" stroke="#4a4a4a" stroke-width="0.9"/>
<rect x="131.67" y="490.63" width="3.50" height="27.37" fill="#b3cb5f"/>
<line x1="138.10" y1="472.53" x2="138.10" y2="492.57" stroke="#4a4a4a" stroke-width="0.9"/>
<line x1="136.90" y1="472.53" x2="139.30" y2="472.53" stroke="#4a4a4a" stroke-width="0.9"/>
<line x1="136.90" y1="492.57" x2="139.30" y2="492.57" stroke="#4a4a4a" stroke-width="0.9"/>
<rect x="136.35" y="492.57" width="3.50" height="25.43" fill="#2aa2b4"/>
<line x1="142.78" y1="489.77" x2="142.78" y2="503.99" stroke="#4a4a4a" stroke-width="0.9"/>
<line x1="141.58" y1="489.77" x2="143.98" y2="489.77" stroke="#4a4a4a" stroke-width="0.9"/>
<line x1="141.58" y1="503.99" x2="143.98" y2="503.99" stroke="#4a4a4a" stroke-width="0.9"/>
<rect x="141.03" y="503.99" width="3.50" height="14.01" fill="#d2d2d2"/>
<rect x="145.71" y="500.98" width="3.50" height="17.02" fill="#f6cb45"/>
<line x1="159.96" y1="417.79" x2="159.96" y2="441.93" stroke="#4a4a4a" stroke-width="0.9"/>
<line x1="158.76" y1="417.79" x2="161.16" y2="417.79" stroke="#4a4a4a" stroke-width="0.9"/>
<line x1="158.76" y1="441.93" x2="161.16" y2="441.93" stroke="#4a4a4a" stroke-width="0.9"/>
<rect x="158.21" y="441.93" width="3.50" height="76.07" fill="#8f8f93"/>
<line x1="164.64" y1="448.82" x2="164.64" y2="457.23" stroke="#4a4a4a" stroke-width="0.9"/>
<line x1="163.44" y1="448.82" x2="165.84" y2="448.82" stroke="#4a4a4a" stroke-width="0.9"/>
<line x1="163.44" y1="457.23" x2="165.84" y2="457.23" stroke="#4a4a4a" stroke-width="0.9"/>
<rect x="162.89" y="457.23" width="3.50" height="60.77" fill="#eb8628"/>
<line x1="169.32" y1="463.05" x2="169.32" y2="471.88" stroke="#4a4a4a" stroke-width="0.9"/>
<line x1="168.12" y1="463.05" x2="170.52" y2="463.05" stroke="#4a4a4a" stroke-width="0.9"/>
<line x1="168.12" y1="471.88" x2="170.52" y2="471.88" stroke="#4a4a4a" stroke-width="0.9"/>
<rect x="167.57" y="471.88" width="3.50" height="46.12" fill="#b3cb5f"/>
<line x1="174.00" y1="488.05" x2="174.00" y2="493.43" stroke="#4a4a4a" stroke-width="0.9"/>
<line x1="172.80" y1="488.05" x2="175.20" y2="488.05" stroke="#4a4a4a" stroke-width="0.9"/>
<line x1="172.80" y1="493.43" x2="175.20" y2="493.43" stroke="#4a4a4a" stroke-width="0.9"/>
<rect x="172.25" y="493.43" width="3.50" height="24.57" fill="#2aa2b4"/>
<line x1="178.68" y1="497.53" x2="178.68" y2="501.84" stroke="#4a4a4a" stroke-width="0.9"/>
<line x1="177.48" y1="497.53" x2="179.88" y2="497.53" stroke="#4a4a4a" stroke-width="0.9"/>
<line x1="177.48" y1="501.84" x2="179.88" y2="501.84" stroke="#4a4a4a" stroke-width="0.9"/>
<rect x="176.93" y="501.84" width="3.50" height="16.16" fill="#d2d2d2"/>
<line x1="183.36" y1="503.35" x2="183.36" y2="507.44" stroke="#4a4a4a" stroke-width="0.9"/>
<line x1="182.16" y1="503.35" x2="184.56" y2="503.35" stroke="#4a4a4a" stroke-width="0.9"/>
<line x1="182.16" y1="507.44" x2="184.56" y2="507.44" stroke="#4a4a4a" stroke-width="0.9"/>
<rect x="181.61" y="507.44" width="3.50" height="10.56" fill="#f6cb45"/>
<rect x="186.29" y="511.75" width="3.50" height="6.25" fill="#832a87"/>
<line x1="195.86" y1="491.28" x2="195.86" y2="494.08" stroke="#4a4a4a" stroke-width="0.9"/>
<line x1="194.66" y1="491.28" x2="197.06" y2="491.28" stroke="#4a4a4a" stroke-width="0.9"/>
<line x1="194.66" y1="494.08" x2="197.06" y2="494.08" stroke="#4a4a4a" stroke-width="0.9"/>
<rect x="194.11" y="494.08" width="3.50" height="23.92" fill="#8f8f93"/>
<line x1="200.54" y1="487.40" x2="200.54" y2="494.94" stroke="#4a4a4a" stroke-width="0.9"/>
<line x1="199.34" y1="487.40" x2="201.74" y2="487.40" stroke="#4a4a4a" stroke-width="0.9"/>
<line x1="199.34" y1="494.94" x2="201.74" y2="494.94" stroke="#4a4a4a" stroke-width="0.9"/>
<rect x="198.79" y="494.94" width="3.50" height="23.06" fill="#eb8628"/>
<line x1="205.22" y1="489.77" x2="205.22" y2="495.59" stroke="#4a4a4a" stroke-width="0.9"/>
<line x1="204.02" y1="489.77" x2="206.42" y2="489.77" stroke="#4a4a4a" stroke-width="0.9"/>
<line x1="204.02" y1="495.59" x2="206.42" y2="495.59" stroke="#4a4a4a" stroke-width="0.9"/>
<rect x="203.47" y="495.59" width="3.50" height="22.41" fill="#b3cb5f"/>
<line x1="209.90" y1="501.62" x2="209.90" y2="504.64" stroke="#4a4a4a" stroke-width="0.9"/>
<line x1="208.70" y1="501.62" x2="211.10" y2="501.62" stroke="#4a4a4a" stroke-width="0.9"/>
<line x1="208.70" y1="504.64" x2="211.10" y2="504.64" stroke="#4a4a4a" stroke-width="0.9"/>
<rect x="208.15" y="504.64" width="3.50" height="13.36" fill="#2aa2b4"/>
<line x1="214.58" y1="503.56" x2="214.58" y2="508.09" stroke="#4a4a4a" stroke-width="0.9"/>
<line x1="213.38" y1="503.56" x2="215.78" y2="503.56" stroke="#4a4a4a" stroke-width="0.9"/>
<line x1="213.38" y1="508.09" x2="215.78" y2="508.09" stroke="#4a4a4a" stroke-width="0.9"/>
<rect x="212.83" y="508.09" width="3.50" height="9.91" fill="#d2d2d2"/>
<line x1="219.26" y1="510.89" x2="219.26" y2="511.97" stroke="#4a4a4a" stroke-width="0.9"/>
<line x1="218.06" y1="510.89" x2="220.46" y2="510.89" stroke="#4a4a4a" stroke-width="0.9"/>
<line x1="218.06" y1="511.97" x2="220.46" y2="511.97" stroke="#4a4a4a" stroke-width="0.9"/>
<rect x="217.51" y="511.97" width="3.50" height="6.03" fill="#f6cb45"/>
<line x1="231.76" y1="410.25" x2="231.76" y2="443.22" stroke="#4a4a4a" stroke-width="0.9"/>
<line x1="230.56" y1="410.25" x2="232.96" y2="410.25" stroke="#4a4a4a" stroke-width="0.9"/>
<line x1="230.56" y1="443.22" x2="232.96" y2="443.22" stroke="#4a4a4a" stroke-width="0.9"/>
<rect x="230.01" y="443.22" width="3.50" height="74.78" fill="#8f8f93"/>
<line x1="236.44" y1="396.03" x2="236.44" y2="443.22" stroke="#4a4a4a" stroke-width="0.9"/>
<line x1="235.24" y1="396.03" x2="237.64" y2="396.03" stroke="#4a4a4a" stroke-width="0.9"/>
<line x1="235.24" y1="443.22" x2="237.64" y2="443.22" stroke="#4a4a4a" stroke-width="0.9"/>
<rect x="234.69" y="443.22" width="3.50" height="74.78" fill="#eb8628"/>
<line x1="241.12" y1="443.87" x2="241.12" y2="463.69" stroke="#4a4a4a" stroke-width="0.9"/>
<line x1="239.92" y1="443.87" x2="242.32" y2="443.87" stroke="#4a4a4a" stroke-width="0.9"/>
<line x1="239.92" y1="463.69" x2="242.32" y2="463.69" stroke="#4a4a4a" stroke-width="0.9"/>
<rect x="239.37" y="463.69" width="3.50" height="54.31" fill="#b3cb5f"/>
<line x1="245.80" y1="478.78" x2="245.80" y2="485.24" stroke="#4a4a4a" stroke-width="0.9"/>
<line x1="244.60" y1="478.78" x2="247.00" y2="478.78" stroke="#4a4a4a" stroke-width="0.9"/>
<line x1="244.60" y1="485.24" x2="247.00" y2="485.24" stroke="#4a4a4a" stroke-width="0.9"/>
<rect x="244.05" y="485.24" width="3.50" height="32.76" fill="#2aa2b4"/>
<line x1="250.48" y1="489.12" x2="250.48" y2="495.59" stroke="#4a4a4a" stroke-width="0.9"/>
<line x1="249.28" y1="489.12" x2="251.68" y2="489.12" stroke="#4a4a4a" stroke-width="0.9"/>
<line x1="249.28" y1="495.59" x2="251.68" y2="495.59" stroke="#4a4a4a" stroke-width="0.9"/>
<rect x="248.73" y="495.59" width="3.50" height="22.41" fill="#d2d2d2"/>
<line x1="255.16" y1="500.11" x2="255.16" y2="505.29" stroke="#4a4a4a" stroke-width="0.9"/>
<line x1="253.96" y1="500.11" x2="256.36" y2="500.11" stroke="#4a4a4a" stroke-width="0.9"/>
<line x1="253.96" y1="505.29" x2="256.36" y2="505.29" stroke="#4a4a4a" stroke-width="0.9"/>
<rect x="253.41" y="505.29" width="3.50" height="12.71" fill="#f6cb45"/>
<rect x="258.09" y="509.16" width="3.50" height="8.84" fill="#832a87"/>
<text x="71.30" y="525.70" font-size="9.5" font-weight="bold" text-anchor="end" fill="#1a1a1a" stroke="#1a1a1a" stroke-width="0.35" transform="rotate(-41 71.30 525.70)">Tumor</text>
<text x="107.20" y="525.70" font-size="9.5" font-weight="bold" text-anchor="end" fill="#1a1a1a" stroke="#1a1a1a" stroke-width="0.35" transform="rotate(-41 107.20 525.70)">Liver</text>
<text x="143.10" y="525.70" font-size="9.5" font-weight="bold" text-anchor="end" fill="#1a1a1a" stroke="#1a1a1a" stroke-width="0.35" transform="rotate(-41 143.10 525.70)">Lung</text>
<text x="179.00" y="525.70" font-size="9.5" font-weight="bold" text-anchor="end" fill="#1a1a1a" stroke="#1a1a1a" stroke-width="0.35" transform="rotate(-41 179.00 525.70)">Spleen</text>
<text x="214.90" y="525.70" font-size="9.5" font-weight="bold" text-anchor="end" fill="#1a1a1a" stroke="#1a1a1a" stroke-width="0.35" transform="rotate(-41 214.90 525.70)">Heart</text>
<text x="250.80" y="525.70" font-size="9.5" font-weight="bold" text-anchor="end" fill="#1a1a1a" stroke="#1a1a1a" stroke-width="0.35" transform="rotate(-41 250.80 525.70)">Kidney</text>
<rect x="63.90" y="563.30" width="13.40" height="6.80" fill="#8f8f93"/>
<text x="81.30" y="570.10" font-size="8.8" font-weight="normal" text-anchor="start" fill="#2e2e2e" stroke="#2e2e2e" stroke-width="0.15" textLength="12.9" lengthAdjust="spacingAndGlyphs">1 hr</text>
<rect x="108.80" y="563.30" width="13.40" height="6.80" fill="#eb8628"/>
<text x="127.10" y="570.10" font-size="8.8" font-weight="normal" text-anchor="start" fill="#2e2e2e" stroke="#2e2e2e" stroke-width="0.15" textLength="13.5" lengthAdjust="spacingAndGlyphs">4 hr</text>
<rect x="153.50" y="563.30" width="13.40" height="6.80" fill="#b3cb5f"/>
<text x="169.20" y="570.10" font-size="8.8" font-weight="normal" text-anchor="start" fill="#2e2e2e" stroke="#2e2e2e" stroke-width="0.15" textLength="14.5" lengthAdjust="spacingAndGlyphs">8 hr</text>
<rect x="199.00" y="563.30" width="13.40" height="6.80" fill="#2aa2b4"/>
<text x="215.40" y="570.10" font-size="8.8" font-weight="normal" text-anchor="start" fill="#2e2e2e" stroke="#2e2e2e" stroke-width="0.15" textLength="18.3" lengthAdjust="spacingAndGlyphs">24 hr</text>
<rect x="63.90" y="584.30" width="13.40" height="6.80" fill="#d2d2d2"/>
<text x="81.00" y="591.10" font-size="8.8" font-weight="normal" text-anchor="start" fill="#2e2e2e" stroke="#2e2e2e" stroke-width="0.15" textLength="17.3" lengthAdjust="spacingAndGlyphs">72 hr</text>
<rect x="123.80" y="584.30" width="13.40" height="6.80" fill="#f6cb45"/>
<text x="139.20" y="591.10" font-size="8.8" font-weight="normal" text-anchor="start" fill="#2e2e2e" stroke="#2e2e2e" stroke-width="0.15" textLength="21.4" lengthAdjust="spacingAndGlyphs">168 hr</text>
<rect x="183.30" y="584.30" width="13.40" height="6.80" fill="#832a87"/>
<text x="199.80" y="591.10" font-size="8.8" font-weight="normal" text-anchor="start" fill="#2e2e2e" stroke="#2e2e2e" stroke-width="0.15" textLength="23.1" lengthAdjust="spacingAndGlyphs">336 hr</text>
<text x="388.30" y="376.00" font-size="10" font-weight="bold" text-anchor="start" fill="#1a1a1a" stroke="#1a1a1a" stroke-width="0.35" textLength="54.3" lengthAdjust="spacingAndGlyphs">Free MMAE</text>
<line x1="321.20" y1="390.70" x2="321.20" y2="519.80" stroke="#231f20" stroke-width="1.3"/>
<line x1="320.60" y1="519.10" x2="518.50" y2="519.10" stroke="#231f20" stroke-width="1.3"/>
<line x1="318.40" y1="519.10" x2="321.20" y2="519.10" stroke="#231f20" stroke-width="1.0"/>
<text x="314.20" y="522.20" font-size="8.6" font-weight="normal" text-anchor="end" fill="#3a3a3a" stroke="#3a3a3a" stroke-width="0.22">0.0</text>
<line x1="318.40" y1="493.40" x2="321.20" y2="493.40" stroke="#231f20" stroke-width="1.0"/>
<text x="314.20" y="496.50" font-size="8.6" font-weight="normal" text-anchor="end" fill="#3a3a3a" stroke="#3a3a3a" stroke-width="0.22">0.5</text>
<line x1="318.40" y1="467.70" x2="321.20" y2="467.70" stroke="#231f20" stroke-width="1.0"/>
<text x="314.20" y="470.80" font-size="8.6" font-weight="normal" text-anchor="end" fill="#3a3a3a" stroke="#3a3a3a" stroke-width="0.22">1.0</text>
<line x1="318.40" y1="442.00" x2="321.20" y2="442.00" stroke="#231f20" stroke-width="1.0"/>
<text x="314.20" y="445.10" font-size="8.6" font-weight="normal" text-anchor="end" fill="#3a3a3a" stroke="#3a3a3a" stroke-width="0.22">1.5</text>
<line x1="318.40" y1="416.30" x2="321.20" y2="416.30" stroke="#231f20" stroke-width="1.0"/>
<text x="314.20" y="419.40" font-size="8.6" font-weight="normal" text-anchor="end" fill="#3a3a3a" stroke="#3a3a3a" stroke-width="0.22">2.0</text>
<line x1="318.40" y1="390.60" x2="321.20" y2="390.60" stroke="#231f20" stroke-width="1.0"/>
<text x="314.20" y="393.70" font-size="8.6" font-weight="normal" text-anchor="end" fill="#3a3a3a" stroke="#3a3a3a" stroke-width="0.22">2.5</text>
<text x="291.20" y="453.20" font-size="9.8" font-weight="bold" text-anchor="middle" fill="#1a1a1a" stroke="#1a1a1a" stroke-width="0.35" textLength="27.6" lengthAdjust="spacingAndGlyphs" transform="rotate(-90 291.20 453.20)">% ID/g</text>
<line x1="334.70" y1="519.10" x2="334.70" y2="522.10" stroke="#231f20" stroke-width="1.0"/>
<line x1="363.06" y1="519.10" x2="363.06" y2="522.10" stroke="#231f20" stroke-width="1.0"/>
<line x1="391.42" y1="519.10" x2="391.42" y2="522.10" stroke="#231f20" stroke-width="1.0"/>
<line x1="419.78" y1="519.10" x2="419.78" y2="522.10" stroke="#231f20" stroke-width="1.0"/>
<line x1="448.14" y1="519.10" x2="448.14" y2="522.10" stroke="#231f20" stroke-width="1.0"/>
<line x1="476.50" y1="519.10" x2="476.50" y2="522.10" stroke="#231f20" stroke-width="1.0"/>
<line x1="504.86" y1="519.10" x2="504.86" y2="522.10" stroke="#231f20" stroke-width="1.0"/>
<rect x="321.60" y="518.07" width="3.10" height="1.03" fill="#a2a2a8"/>
<rect x="325.45" y="513.45" width="3.10" height="5.65" fill="#eb8628"/>
<line x1="330.85" y1="502.65" x2="330.85" y2="504.71" stroke="#4a4a4a" stroke-width="0.9"/>
<line x1="329.75" y1="502.65" x2="331.95" y2="502.65" stroke="#4a4a4a" stroke-width="0.9"/>
<line x1="329.75" y1="504.71" x2="331.95" y2="504.71" stroke="#4a4a4a" stroke-width="0.9"/>
<rect x="329.30" y="504.71" width="3.10" height="14.39" fill="#b3cb5f"/>
<line x1="334.70" y1="465.13" x2="334.70" y2="479.78" stroke="#4a4a4a" stroke-width="0.9"/>
<line x1="333.60" y1="465.13" x2="335.80" y2="465.13" stroke="#4a4a4a" stroke-width="0.9"/>
<line x1="333.60" y1="479.78" x2="335.80" y2="479.78" stroke="#4a4a4a" stroke-width="0.9"/>
<rect x="333.15" y="479.78" width="3.10" height="39.32" fill="#d2d2d2"/>
<line x1="338.55" y1="438.92" x2="338.55" y2="449.71" stroke="#4a4a4a" stroke-width="0.9"/>
<line x1="337.45" y1="438.92" x2="339.65" y2="438.92" stroke="#4a4a4a" stroke-width="0.9"/>
<line x1="337.45" y1="449.71" x2="339.65" y2="449.71" stroke="#4a4a4a" stroke-width="0.9"/>
<rect x="337.00" y="449.71" width="3.10" height="69.39" fill="#2aa2b4"/>
<line x1="342.40" y1="410.13" x2="342.40" y2="440.97" stroke="#4a4a4a" stroke-width="0.9"/>
<line x1="341.30" y1="410.13" x2="343.50" y2="410.13" stroke="#4a4a4a" stroke-width="0.9"/>
<line x1="341.30" y1="440.97" x2="343.50" y2="440.97" stroke="#4a4a4a" stroke-width="0.9"/>
<rect x="340.85" y="440.97" width="3.10" height="78.13" fill="#f6cb45"/>
<line x1="346.25" y1="486.20" x2="346.25" y2="499.05" stroke="#4a4a4a" stroke-width="0.9"/>
<line x1="345.15" y1="486.20" x2="347.35" y2="486.20" stroke="#4a4a4a" stroke-width="0.9"/>
<line x1="345.15" y1="499.05" x2="347.35" y2="499.05" stroke="#4a4a4a" stroke-width="0.9"/>
<rect x="344.70" y="499.05" width="3.10" height="20.05" fill="#832a87"/>
<line x1="351.51" y1="484.66" x2="351.51" y2="496.48" stroke="#4a4a4a" stroke-width="0.9"/>
<line x1="350.41" y1="484.66" x2="352.61" y2="484.66" stroke="#4a4a4a" stroke-width="0.9"/>
<line x1="350.41" y1="496.48" x2="352.61" y2="496.48" stroke="#4a4a4a" stroke-width="0.9"/>
<rect x="349.96" y="496.48" width="3.10" height="22.62" fill="#a2a2a8"/>
<line x1="355.36" y1="494.43" x2="355.36" y2="498.54" stroke="#4a4a4a" stroke-width="0.9"/>
<line x1="354.26" y1="494.43" x2="356.46" y2="494.43" stroke="#4a4a4a" stroke-width="0.9"/>
<line x1="354.26" y1="498.54" x2="356.46" y2="498.54" stroke="#4a4a4a" stroke-width="0.9"/>
<rect x="353.81" y="498.54" width="3.10" height="20.56" fill="#eb8628"/>
<line x1="359.21" y1="490.83" x2="359.21" y2="499.05" stroke="#4a4a4a" stroke-width="0.9"/>
<line x1="358.11" y1="490.83" x2="360.31" y2="490.83" stroke="#4a4a4a" stroke-width="0.9"/>
<line x1="358.11" y1="499.05" x2="360.31" y2="499.05" stroke="#4a4a4a" stroke-width="0.9"/>
<rect x="357.66" y="499.05" width="3.10" height="20.05" fill="#b3cb5f"/>
<line x1="363.06" y1="509.33" x2="363.06" y2="510.36" stroke="#4a4a4a" stroke-width="0.9"/>
<line x1="361.96" y1="509.33" x2="364.16" y2="509.33" stroke="#4a4a4a" stroke-width="0.9"/>
<line x1="361.96" y1="510.36" x2="364.16" y2="510.36" stroke="#4a4a4a" stroke-width="0.9"/>
<rect x="361.51" y="510.36" width="3.10" height="8.74" fill="#d2d2d2"/>
<rect x="365.36" y="510.88" width="3.10" height="8.22" fill="#2aa2b4"/>
<line x1="370.76" y1="513.45" x2="370.76" y2="514.47" stroke="#4a4a4a" stroke-width="0.9"/>
<line x1="369.66" y1="513.45" x2="371.86" y2="513.45" stroke="#4a4a4a" stroke-width="0.9"/>
<line x1="369.66" y1="514.47" x2="371.86" y2="514.47" stroke="#4a4a4a" stroke-width="0.9"/>
<rect x="369.21" y="514.47" width="3.10" height="4.63" fill="#f6cb45"/>
<rect x="373.06" y="514.99" width="3.10" height="4.11" fill="#832a87"/>
<rect x="378.32" y="516.02" width="3.10" height="3.08" fill="#a2a2a8"/>
<line x1="383.72" y1="512.42" x2="383.72" y2="513.55" stroke="#4a4a4a" stroke-width="0.9"/>
<line x1="382.62" y1="512.42" x2="384.82" y2="512.42" stroke="#4a4a4a" stroke-width="0.9"/>
<line x1="382.62" y1="513.55" x2="384.82" y2="513.55" stroke="#4a4a4a" stroke-width="0.9"/>
<rect x="382.17" y="513.55" width="3.10" height="5.55" fill="#eb8628"/>
<rect x="386.02" y="514.58" width="3.10" height="4.52" fill="#b3cb5f"/>
<line x1="391.42" y1="511.39" x2="391.42" y2="514.22" stroke="#4a4a4a" stroke-width="0.9"/>
<line x1="390.32" y1="511.39" x2="392.52" y2="511.39" stroke="#4a4a4a" stroke-width="0.9"/>
<line x1="390.32" y1="514.22" x2="392.52" y2="514.22" stroke="#4a4a4a" stroke-width="0.9"/>
<rect x="389.87" y="514.22" width="3.10" height="4.88" fill="#d2d2d2"/>
<rect x="393.72" y="515.71" width="3.10" height="3.39" fill="#2aa2b4"/>
<line x1="399.12" y1="513.96" x2="399.12" y2="514.58" stroke="#4a4a4a" stroke-width="0.9"/>
<line x1="398.02" y1="513.96" x2="400.22" y2="513.96" stroke="#4a4a4a" stroke-width="0.9"/>
<line x1="398.02" y1="514.58" x2="400.22" y2="514.58" stroke="#4a4a4a" stroke-width="0.9"/>
<rect x="397.57" y="514.58" width="3.10" height="4.52" fill="#f6cb45"/>
<rect x="401.42" y="517.56" width="3.10" height="1.54" fill="#832a87"/>
<line x1="408.23" y1="500.85" x2="408.23" y2="503.68" stroke="#4a4a4a" stroke-width="0.9"/>
<line x1="407.13" y1="500.85" x2="409.33" y2="500.85" stroke="#4a4a4a" stroke-width="0.9"/>
<line x1="407.13" y1="503.68" x2="409.33" y2="503.68" stroke="#4a4a4a" stroke-width="0.9"/>
<rect x="406.68" y="503.68" width="3.10" height="15.42" fill="#a2a2a8"/>
<line x1="412.08" y1="501.62" x2="412.08" y2="503.17" stroke="#4a4a4a" stroke-width="0.9"/>
<line x1="410.98" y1="501.62" x2="413.18" y2="501.62" stroke="#4a4a4a" stroke-width="0.9"/>
<line x1="410.98" y1="503.17" x2="413.18" y2="503.17" stroke="#4a4a4a" stroke-width="0.9"/>
<rect x="410.53" y="503.17" width="3.10" height="15.93" fill="#eb8628"/>
<rect x="414.38" y="505.22" width="3.10" height="13.88" fill="#b3cb5f"/>
<line x1="419.78" y1="505.74" x2="419.78" y2="506.25" stroke="#4a4a4a" stroke-width="0.9"/>
<line x1="418.68" y1="505.74" x2="420.88" y2="505.74" stroke="#4a4a4a" stroke-width="0.9"/>
<line x1="418.68" y1="506.25" x2="420.88" y2="506.25" stroke="#4a4a4a" stroke-width="0.9"/>
<rect x="418.23" y="506.25" width="3.10" height="12.85" fill="#d2d2d2"/>
<line x1="423.63" y1="511.13" x2="423.63" y2="511.54" stroke="#4a4a4a" stroke-width="0.9"/>
<line x1="422.53" y1="511.13" x2="424.73" y2="511.13" stroke="#4a4a4a" stroke-width="0.9"/>
<line x1="422.53" y1="511.54" x2="424.73" y2="511.54" stroke="#4a4a4a" stroke-width="0.9"/>
<rect x="422.08" y="511.54" width="3.10" height="7.56" fill="#2aa2b4"/>
<rect x="425.93" y="514.58" width="3.10" height="4.52" fill="#f6cb45"/>
<rect x="429.78" y="517.56" width="3.10" height="1.54" fill="#832a87"/>
<rect x="435.04" y="518.07" width="3.10" height="1.03" fill="#a2a2a8"/>
<rect x="438.89" y="518.07" width="3.10" height="1.03" fill="#eb8628"/>
<rect x="442.74" y="518.07" width="3.10" height="1.03" fill="#b3cb5f"/>
<rect x="446.59" y="518.33" width="3.10" height="0.77" fill="#d2d2d2"/>
<rect x="450.44" y="518.33" width="3.10" height="0.77" fill="#2aa2b4"/>
<rect x="454.29" y="518.59" width="3.10" height="0.51" fill="#f6cb45"/>
<rect x="458.14" y="518.59" width="3.10" height="0.51" fill="#832a87"/>
<line x1="464.95" y1="488.52" x2="464.95" y2="501.62" stroke="#4a4a4a" stroke-width="0.9"/>
<line x1="463.85" y1="488.52" x2="466.05" y2="488.52" stroke="#4a4a4a" stroke-width="0.9"/>
<line x1="463.85" y1="501.62" x2="466.05" y2="501.62" stroke="#4a4a4a" stroke-width="0.9"/>
<rect x="463.40" y="501.62" width="3.10" height="17.48" fill="#a2a2a8"/>
<line x1="468.80" y1="501.11" x2="468.80" y2="505.99" stroke="#4a4a4a" stroke-width="0.9"/>
<line x1="467.70" y1="501.11" x2="469.90" y2="501.11" stroke="#4a4a4a" stroke-width="0.9"/>
<line x1="467.70" y1="505.99" x2="469.90" y2="505.99" stroke="#4a4a4a" stroke-width="0.9"/>
<rect x="467.25" y="505.99" width="3.10" height="13.11" fill="#eb8628"/>
<line x1="472.65" y1="506.76" x2="472.65" y2="507.02" stroke="#4a4a4a" stroke-width="0.9"/>
<line x1="471.55" y1="506.76" x2="473.75" y2="506.76" stroke="#4a4a4a" stroke-width="0.9"/>
<line x1="471.55" y1="507.02" x2="473.75" y2="507.02" stroke="#4a4a4a" stroke-width="0.9"/>
<rect x="471.10" y="507.02" width="3.10" height="12.08" fill="#b3cb5f"/>
<line x1="476.50" y1="511.39" x2="476.50" y2="512.42" stroke="#4a4a4a" stroke-width="0.9"/>
<line x1="475.40" y1="511.39" x2="477.60" y2="511.39" stroke="#4a4a4a" stroke-width="0.9"/>
<line x1="475.40" y1="512.42" x2="477.60" y2="512.42" stroke="#4a4a4a" stroke-width="0.9"/>
<rect x="474.95" y="512.42" width="3.10" height="6.68" fill="#d2d2d2"/>
<line x1="480.35" y1="511.13" x2="480.35" y2="512.93" stroke="#4a4a4a" stroke-width="0.9"/>
<line x1="479.25" y1="511.13" x2="481.45" y2="511.13" stroke="#4a4a4a" stroke-width="0.9"/>
<line x1="479.25" y1="512.93" x2="481.45" y2="512.93" stroke="#4a4a4a" stroke-width="0.9"/>
<rect x="478.80" y="512.93" width="3.10" height="6.17" fill="#2aa2b4"/>
<line x1="484.20" y1="514.99" x2="484.20" y2="515.50" stroke="#4a4a4a" stroke-width="0.9"/>
<line x1="483.10" y1="514.99" x2="485.30" y2="514.99" stroke="#4a4a4a" stroke-width="0.9"/>
<line x1="483.10" y1="515.50" x2="485.30" y2="515.50" stroke="#4a4a4a" stroke-width="0.9"/>
<rect x="482.65" y="515.50" width="3.10" height="3.60" fill="#f6cb45"/>
<rect x="486.50" y="516.53" width="3.10" height="2.57" fill="#832a87"/>
<rect x="491.76" y="516.02" width="3.10" height="3.08" fill="#a2a2a8"/>
<rect x="495.61" y="515.50" width="3.10" height="3.60" fill="#eb8628"/>
<line x1="501.01" y1="511.03" x2="501.01" y2="513.55" stroke="#4a4a4a" stroke-width="0.9"/>
<line x1="499.91" y1="511.03" x2="502.11" y2="511.03" stroke="#4a4a4a" stroke-width="0.9"/>
<line x1="499.91" y1="513.55" x2="502.11" y2="513.55" stroke="#4a4a4a" stroke-width="0.9"/>
<rect x="499.46" y="513.55" width="3.10" height="5.55" fill="#b3cb5f"/>
<rect x="503.31" y="515.50" width="3.10" height="3.60" fill="#d2d2d2"/>
<rect x="507.16" y="517.30" width="3.10" height="1.80" fill="#2aa2b4"/>
<rect x="511.01" y="516.53" width="3.10" height="2.57" fill="#f6cb45"/>
<rect x="514.86" y="518.07" width="3.10" height="1.03" fill="#832a87"/>
<text x="339.30" y="528.00" font-size="9.2" font-weight="bold" text-anchor="end" fill="#1a1a1a" stroke="#1a1a1a" stroke-width="0.35" transform="rotate(-44 339.30 528.00)">Tumor</text>
<text x="367.66" y="528.00" font-size="9.2" font-weight="bold" text-anchor="end" fill="#1a1a1a" stroke="#1a1a1a" stroke-width="0.35" transform="rotate(-44 367.66 528.00)">Liver</text>
<text x="396.02" y="528.00" font-size="9.2" font-weight="bold" text-anchor="end" fill="#1a1a1a" stroke="#1a1a1a" stroke-width="0.35" transform="rotate(-44 396.02 528.00)">Lung</text>
<text x="424.38" y="528.00" font-size="9.2" font-weight="bold" text-anchor="end" fill="#1a1a1a" stroke="#1a1a1a" stroke-width="0.35" transform="rotate(-44 424.38 528.00)">Spleen</text>
<text x="452.74" y="528.00" font-size="9.2" font-weight="bold" text-anchor="end" fill="#1a1a1a" stroke="#1a1a1a" stroke-width="0.35" transform="rotate(-44 452.74 528.00)">Heart</text>
<text x="481.10" y="528.00" font-size="9.2" font-weight="bold" text-anchor="end" fill="#1a1a1a" stroke="#1a1a1a" stroke-width="0.35" transform="rotate(-44 481.10 528.00)">Kidney</text>
<text x="509.46" y="528.00" font-size="9.2" font-weight="bold" text-anchor="end" fill="#1a1a1a" stroke="#1a1a1a" stroke-width="0.35" transform="rotate(-44 509.46 528.00)">Serum</text>
<rect x="335.20" y="563.80" width="13.40" height="6.80" fill="#8f8f93"/>
<text x="352.70" y="570.60" font-size="8.8" font-weight="normal" text-anchor="start" fill="#2e2e2e" stroke="#2e2e2e" stroke-width="0.15" textLength="13.0" lengthAdjust="spacingAndGlyphs">1 hr</text>
<rect x="380.40" y="563.80" width="13.40" height="6.80" fill="#eb8628"/>
<text x="398.30" y="570.60" font-size="8.8" font-weight="normal" text-anchor="start" fill="#2e2e2e" stroke="#2e2e2e" stroke-width="0.15" textLength="14.0" lengthAdjust="spacingAndGlyphs">4 hr</text>
<rect x="425.30" y="563.80" width="13.40" height="6.80" fill="#b3cb5f"/>
<text x="441.20" y="570.60" font-size="8.8" font-weight="normal" text-anchor="start" fill="#2e2e2e" stroke="#2e2e2e" stroke-width="0.15" textLength="14.0" lengthAdjust="spacingAndGlyphs">8 hr</text>
<rect x="470.40" y="563.80" width="13.40" height="6.80" fill="#2aa2b4"/>
<text x="486.30" y="570.60" font-size="8.8" font-weight="normal" text-anchor="start" fill="#2e2e2e" stroke="#2e2e2e" stroke-width="0.15" textLength="18.3" lengthAdjust="spacingAndGlyphs">72 hr</text>
<rect x="335.20" y="584.90" width="13.40" height="6.80" fill="#d2d2d2"/>
<text x="352.10" y="591.70" font-size="8.8" font-weight="normal" text-anchor="start" fill="#2e2e2e" stroke="#2e2e2e" stroke-width="0.15" textLength="18.3" lengthAdjust="spacingAndGlyphs">24 hr</text>
<rect x="395.40" y="584.90" width="13.40" height="6.80" fill="#f6cb45"/>
<text x="410.40" y="591.70" font-size="8.8" font-weight="normal" text-anchor="start" fill="#2e2e2e" stroke="#2e2e2e" stroke-width="0.15" textLength="22.1" lengthAdjust="spacingAndGlyphs">168 hr</text>
<rect x="454.60" y="584.90" width="13.40" height="6.80" fill="#832a87"/>
<text x="471.00" y="591.70" font-size="8.8" font-weight="normal" text-anchor="start" fill="#2e2e2e" stroke="#2e2e2e" stroke-width="0.15" textLength="23.0" lengthAdjust="spacingAndGlyphs">336 hr</text>
</svg>
</body></html>
